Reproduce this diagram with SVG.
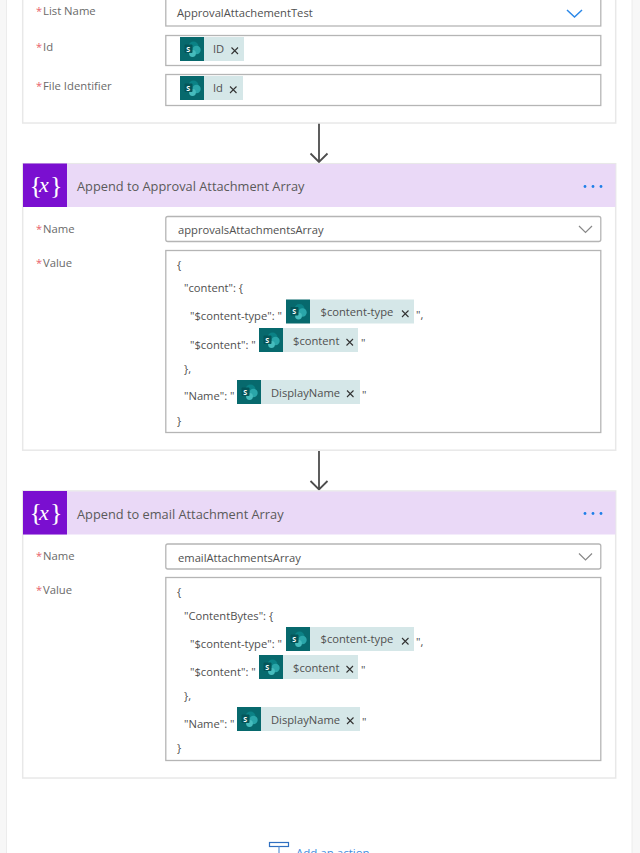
<svg xmlns="http://www.w3.org/2000/svg" width="640" height="853" viewBox="0 0 640 853">
<style>
text{font-family:"Open Sans","Noto Sans","Liberation Sans",sans-serif;fill:#444}
.card{fill:#fff;stroke:#e8e8e8;stroke-width:1.5}
.head{fill:#ead9f7}
.ic{fill:#7a0fd0}
.input{fill:#fff;stroke:#b5b5b5;stroke-width:1.3}
.lab{font-size:11.3px;fill:#6a6a6a}
.star{font-size:11px;fill:#e8606a}
.val{font-size:11.2px;fill:#505050}
.code{font-size:11.2px;fill:#505050}
.title{font-size:12.8px;fill:#5a5a5a}
.tok{fill:#d5e7e8}
.x{stroke:#333;stroke-width:1.1;fill:none}
.dot{fill:#1f7fe8}
.arrow{stroke:#4d4d4d;stroke-width:1.8;fill:none}
.chev{fill:none;stroke:#888;stroke-width:1.2}
.brace{font-family:"Liberation Serif",serif;fill:#fff;font-size:26px}
.xv{font-family:"Liberation Serif",serif;font-style:italic;fill:#fff;font-size:22px}
</style>
<defs>
<g id="sp">
<rect width="24" height="24" fill="#07696d"/>
<circle cx="13.500" cy="9.500" r="5" fill="#0b8286"/>
<circle cx="16.500" cy="13" r="4.200" fill="#2aa6a9"/>
<circle cx="12.500" cy="16.500" r="3.400" fill="#46bcbd"/>
<rect x="4.500" y="7.500" width="8" height="8.500" rx="1" fill="#04565a"/>
<text x="6.200" y="14.600" style="font-size:7px;font-weight:700;fill:#fff">S</text>
</g>
<path id="cross" class="x" d="M0 0l6.500 6.500M6.500 0l-6.500 6.500"/>
<g id="vicon">
<rect class="ic" width="44" height="43.500"/>
<text class="brace" x="6.500" y="30">{</text>
<text class="xv" x="16" y="28.500">x</text>
<text class="brace" x="27" y="30">}</text>
</g>
<g id="dots"><circle cx="0" cy="0" r="1.400" class="dot"/><circle cx="8" cy="0" r="1.400" class="dot"/><circle cx="16" cy="0" r="1.400" class="dot"/></g>
</defs>
<rect width="640" height="853" fill="#f7f7f7"/>
<rect x="6.500" y="-2" width="625.500" height="860" fill="#fff" stroke="#ececec"/>

<g id="connectors">
<path class="arrow" d="M319 123V162M310.500 153.500L319 162L327.500 153.500"/>
<path class="arrow" d="M319 451V489.500M310.500 481L319 489.500L327.500 481"/>
</g>

<g id="node-get-file">
<rect class="card" x="22.700" y="-10" width="593" height="133"/>
<text class="star" x="36" y="15">*</text><text class="lab" x="43" y="15">List Name</text>
<rect class="input" x="165.800" y="-8" width="435" height="34"/>
<text class="val" x="177" y="17">ApprovalAttachementTest</text>
<path d="M567 10L574.500 17L582 10" fill="none" stroke="#2b88e8" stroke-width="1.500"/>
<text class="star" x="36" y="51">*</text><text class="lab" x="43" y="51">Id</text>
<rect class="input" x="165.800" y="35.500" width="435" height="30"/>
<use href="#sp" x="180" y="37"/><rect class="tok" x="204" y="37" width="40" height="24"/>
<text class="val" x="213" y="53">ID</text><use href="#cross" x="231.500" y="47.500"/>
<text class="star" x="36" y="90">*</text><text class="lab" x="43" y="90">File Identifier</text>
<rect class="input" x="165.800" y="74.500" width="435" height="31"/>
<use href="#sp" x="180" y="76"/><rect class="tok" x="204" y="76" width="39" height="24"/>
<text class="val" x="213" y="92">Id</text><use href="#cross" x="230" y="86.500"/>
</g>

<g id="node-append-approval">
<rect class="card" x="22.700" y="163.700" width="593" height="286.500"/>
<rect class="head" x="23" y="164" width="592.500" height="43"/>
<use href="#vicon" x="23" y="163.500"/>
<text class="title" x="77" y="191">Append to Approval Attachment Array</text>
<use href="#dots" x="585" y="186.500"/>
<text class="star" x="36" y="233">*</text><text class="lab" x="43" y="232.500">Name</text>
<rect class="input" x="165.800" y="216.500" width="435" height="25" rx="2"/>
<text class="val" x="178" y="234">approvalsAttachmentsArray</text>
<path class="chev" d="M579 226L585.500 232.500L592 226"/>
<text class="star" x="36" y="267">*</text><text class="lab" x="43" y="266.500">Value</text>
<rect class="input" x="165.800" y="250.500" width="435" height="182"/>
<text class="code" x="177" y="269">{</text>
<text class="code" x="184" y="292">"content": {</text>
<text class="code" x="190" y="320">"$content-type": "</text>
<use href="#sp" x="286" y="299.500"/><rect class="tok" x="310" y="299.500" width="104" height="24"/>
<text class="val" x="320.500" y="316">$content-type</text><use href="#cross" x="402" y="310.500"/>
<text class="code" x="416" y="319">",</text>
<text class="code" x="190" y="349">"$content": "</text>
<use href="#sp" x="259" y="328"/><rect class="tok" x="283" y="328" width="75" height="24"/>
<text class="val" x="293" y="345">$content</text><use href="#cross" x="346.500" y="339"/>
<text class="code" x="361" y="347">"</text>
<text class="code" x="184" y="373">},</text>
<text class="code" x="184" y="400">"Name": "</text>
<use href="#sp" x="237" y="380"/><rect class="tok" x="261" y="380" width="99" height="24"/>
<text class="val" x="271" y="397">DisplayName</text><use href="#cross" x="347" y="390.500"/>
<text class="code" x="362" y="399">"</text>
<text class="code" x="177" y="425">}</text>
</g>

<g id="node-append-email">
<rect class="card" x="22.700" y="491" width="593" height="287"/>
<rect class="head" x="23" y="491.500" width="592.500" height="43"/>
<use href="#vicon" x="23" y="491"/>
<text class="title" x="77" y="519">Append to email Attachment Array</text>
<use href="#dots" x="585" y="513.500"/>
<text class="star" x="36" y="560">*</text><text class="lab" x="43" y="560">Name</text>
<rect class="input" x="165.800" y="544" width="435" height="25" rx="2"/>
<text class="val" x="178" y="562">emailAttachmentsArray</text>
<path class="chev" d="M579 553.500L585.500 560L592 553.500"/>
<text class="star" x="36" y="594">*</text><text class="lab" x="43" y="594">Value</text>
<rect class="input" x="165.800" y="577.500" width="435" height="183"/>
<text class="code" x="177" y="596">{</text>
<text class="code" x="184" y="620">"ContentBytes": {</text>
<text class="code" x="190" y="648">"$content-type": "</text>
<use href="#sp" x="286" y="627"/><rect class="tok" x="310" y="627" width="104" height="24"/>
<text class="val" x="320.500" y="643">$content-type</text><use href="#cross" x="402" y="638"/>
<text class="code" x="416" y="646">",</text>
<text class="code" x="190" y="676">"$content": "</text>
<use href="#sp" x="259" y="655"/><rect class="tok" x="283" y="655" width="75" height="24"/>
<text class="val" x="293" y="672">$content</text><use href="#cross" x="346.500" y="666"/>
<text class="code" x="361" y="674">"</text>
<text class="code" x="184" y="700">},</text>
<text class="code" x="184" y="728">"Name": "</text>
<use href="#sp" x="237" y="707"/><rect class="tok" x="261" y="707" width="99" height="24"/>
<text class="val" x="271" y="724">DisplayName</text><use href="#cross" x="347" y="717.500"/>
<text class="code" x="362" y="726">"</text>
<text class="code" x="177" y="752">}</text>
</g>

<g id="node-add-action">
<rect x="269.500" y="842.500" width="19" height="4" fill="#fff" stroke="#2f6fc0" stroke-width="1.200"/>
<path d="M279 846.500V853" stroke="#5b93d6" stroke-width="1.200" fill="none"/>
<text x="296" y="857" style="font-size:11.500px;fill:#3f8de0">Add an action</text>
</g>
</svg>
